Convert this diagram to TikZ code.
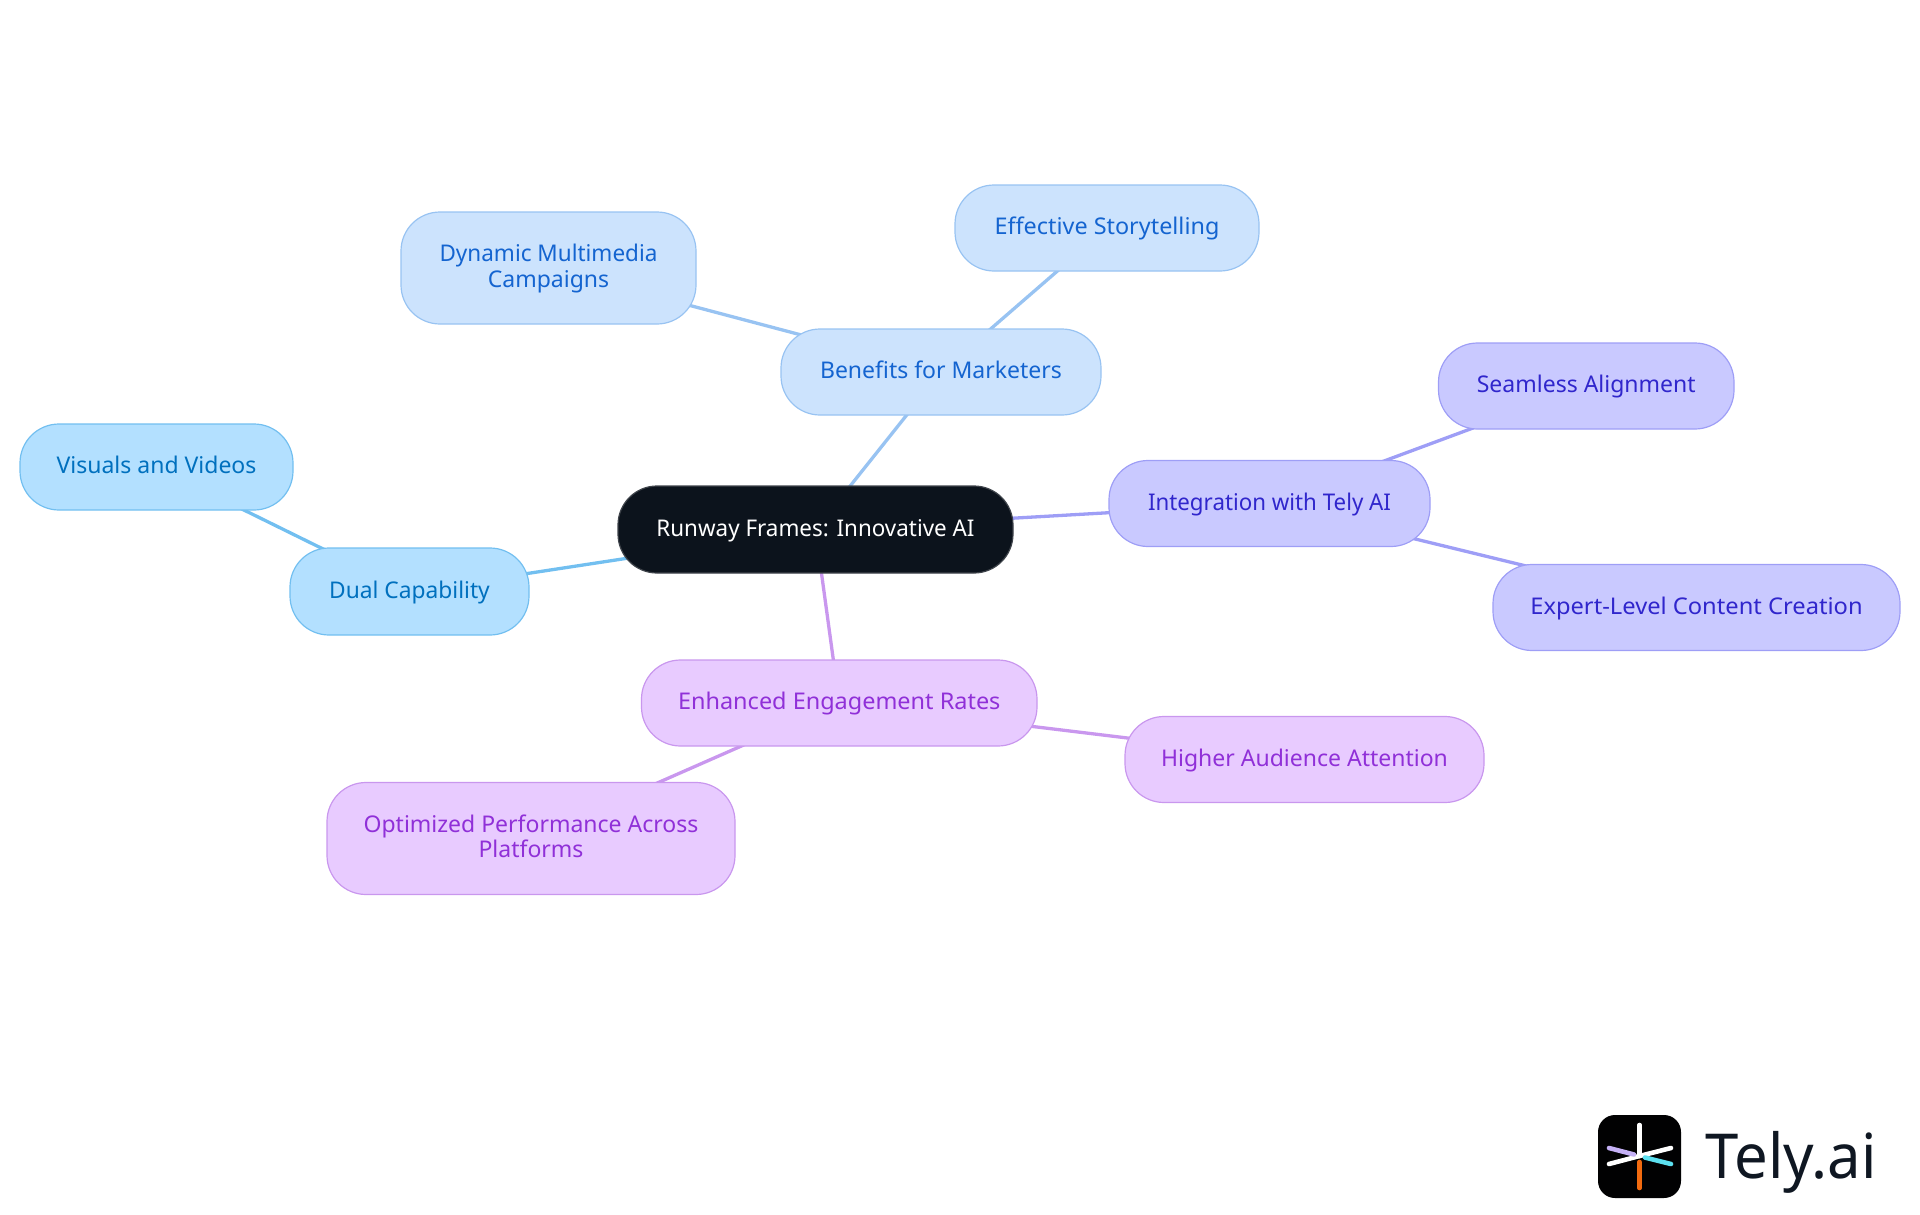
\documentclass[tikz,border=0pt]{standalone}
\usepackage{graphicx}
\usepackage{fontspec}
\setmainfont{Noto Sans}
\usetikzlibrary{backgrounds}
\definecolor{rootfill}{HTML}{0C131C}
\definecolor{rootline}{HTML}{3F444B}
\definecolor{skyfill}{HTML}{B3E0FF}
\definecolor{skyline}{HTML}{72BFF0}
\definecolor{skytext}{HTML}{0070BE}
\definecolor{bluefill}{HTML}{CCE3FD}
\definecolor{blueline}{HTML}{98C3F2}
\definecolor{bluetext}{HTML}{1464D0}
\definecolor{violetfill}{HTML}{C9C9FF}
\definecolor{violetline}{HTML}{9E9EF6}
\definecolor{violettext}{HTML}{3026CC}
\definecolor{purplefill}{HTML}{E8CBFF}
\definecolor{purpleline}{HTML}{C997EE}
\definecolor{purpletext}{HTML}{9030D8}
\definecolor{logotext}{HTML}{0F1722}
\definecolor{logoviolet}{HTML}{C4B0F5}
\definecolor{logocyan}{HTML}{5CE0F0}
\definecolor{logoorange}{HTML}{F26A0F}
\tikzset{
  mm/.style={rounded corners=39pt,align=center,inner sep=0pt,line width=1.2pt,
    font=\fontsize{23}{25.7}\selectfont},
  root/.style={mm,fill=rootfill,draw=rootline,text=white},
  sky/.style={mm,fill=skyfill,draw=skyline,text=skytext},
  blue/.style={mm,fill=bluefill,draw=blueline,text=bluetext},
  violet/.style={mm,fill=violetfill,draw=violetline,text=violettext},
  purple/.style={mm,fill=purplefill,draw=purpleline,text=purpletext},
  link/.style={line width=3.3pt},
  spoke/.style={line width=4.6pt,line cap=round},
}
\newcommand{\boxat}[7]{% style,name,x0,y0,x1,y1,text
  \node[#1,minimum width=#5pt-#3pt,minimum height=#6pt-#4pt] (#2) at ({(#3+#5)/2},{(#4+#6)/2}) {#7};}
\newcommand{\tx}[2]{\rule[-6pt]{0pt}{25pt}\scalebox{#1}[1]{#2}}
\begin{document}
\begin{tikzpicture}[x=1pt,y=-1pt]
\useasboundingbox (0,0) rectangle (1920,1215);
\boxat{root}{r}{618}{486}{1013}{573}{\tx{.974}{Runway Frames: Innovative AI}}
\boxat{blue}{b}{781}{329}{1101}{415}{\tx{1}{Benefits for Marketers}}
\boxat{blue}{b1}{955}{185}{1259}{271}{\tx{1.017}{Effective Storytelling}}
\boxat{blue}{b2}{401}{212}{696}{324}{\tx{.978}{Dynamic Multimedia}\\\tx{1}{Campaigns}}
\boxat{sky}{s}{290}{548}{529}{635}{\tx{.99}{Dual Capability}}
\boxat{sky}{s1}{20}{424}{293}{510}{\tx{1}{Visuals and Videos}}
\boxat{violet}{v}{1109}{460.5}{1430}{546.5}{\tx{.97}{Integration with Tely AI}}
\boxat{violet}{v1}{1438.5}{343}{1734}{429}{\tx{1}{Seamless Alignment}}
\boxat{violet}{v2}{1493}{564.5}{1900}{650.5}{\tx{1.03}{Expert-Level Content Creation}}
\boxat{purple}{p}{641.5}{660}{1037}{746}{\tx{1.02}{Enhanced Engagement Rates}}
\boxat{purple}{p1}{1125}{716.5}{1484}{802.5}{\tx{1}{Higher Audience Attention}}
\boxat{purple}{p2}{327}{782.5}{735}{894.5}{\tx{1}{Optimized Performance Across}\\\tx{1}{Platforms}}
\begin{scope}[on background layer]
\draw[link,blueline] (r.center) -- (b.center);
\draw[link,blueline] (b.center) -- (b1.center);
\draw[link,blueline] (b.center) -- (b2.center);
\draw[link,skyline] (r.center) -- (s.center);
\draw[link,skyline] (s.center) -- (s1.center);
\draw[link,violetline] (r.center) -- (v.center);
\draw[link,violetline] (v.center) -- (v1.center);
\draw[link,violetline] (v.center) -- (v2.center);
\draw[link,purpleline] (r.center) -- (p.center);
\draw[link,purpleline] (p.center) -- (p1.center);
\draw[link,purpleline] (p.center) -- (p2.center);
\end{scope}
% logo
\fill[black!95!rootfill,rounded corners=17pt] (1598,1115) rectangle (1681,1198);
\coordinate (c) at (1639.5,1156);
\draw[spoke,white] (c) -- (1639.5,1125);
\draw[spoke,white] (c) -- (1671,1148);
\draw[spoke,white] (c) -- (1609,1164);
\draw[spoke,logoviolet] (1634,1154.5) -- (1609,1148);
\draw[spoke,logocyan] (1645,1157.5) -- (1671,1164);
\draw[spoke,logoorange] (1639.5,1162) -- (1639.5,1188);
\node[anchor=base west,inner sep=0pt,text=logotext,font=\fontsize{62}{62}\selectfont] (logo) at (1705,1178) {\scalebox{.965}[1]{Tely.ai}};
\end{tikzpicture}
\end{document}
